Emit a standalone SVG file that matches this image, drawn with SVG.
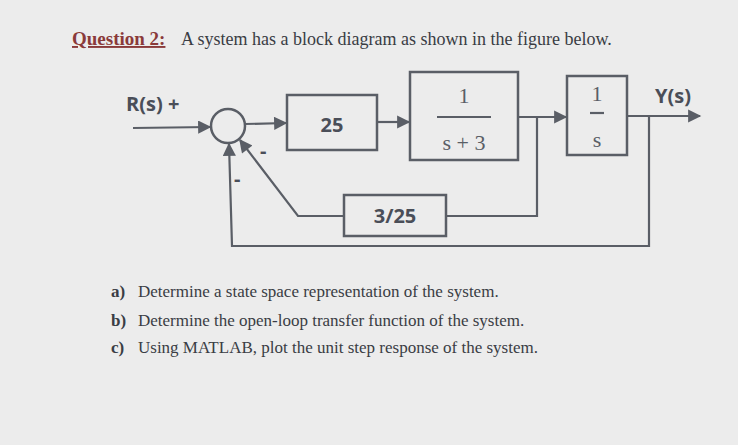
<svg xmlns="http://www.w3.org/2000/svg" width="738" height="445" viewBox="0 0 738 445">
<style>
.b{fill:none;stroke:#5a5e66;stroke-width:2.5}
.l{fill:none;stroke:#5a5e66;stroke-width:2.2}
.s{font-family:"Open Sans","Liberation Sans",sans-serif;font-weight:bold;fill:#4a4e58;font-size:20px}
.t{font-family:"Liberation Serif",serif;fill:#3a3d44;font-size:17px}
.f{font-family:"Liberation Serif",serif;fill:#5a5e66;font-size:22px;text-anchor:middle}
</style>
<defs><marker id="a" viewBox="0 0 10 10" refX="9" refY="5" markerWidth="7" markerHeight="6" orient="auto" markerUnits="strokeWidth"><path d="M0,0L10,5L0,10z" fill="#5a5e66"/></marker></defs>
<rect width="738" height="445" fill="#ececec"/>
<text x="72" y="45" style="font-family:'Liberation Serif',serif;font-weight:bold;font-size:19px;fill:#8a3a3a;text-decoration:underline">Question 2:</text>
<text x="181" y="45" class="t" style="font-size:18px">A system has a block diagram as shown in the figure below.</text>
<g id="sum"><circle cx="228" cy="126" r="17" class="b"/></g>
<g id="k25"><rect x="287" y="95" width="90" height="55" class="b"/><text x="332" y="132" class="s" text-anchor="middle">25</text></g>
<g id="g1"><rect x="410" y="72" width="108" height="88" class="b"/><text x="464" y="103" class="f">1</text><line x1="437" y1="117" x2="491" y2="117" class="l"/><text x="464" y="150" class="f">s + 3</text></g>
<g id="g2"><rect x="567" y="76" width="60" height="79" class="b"/><text x="597" y="101" class="f">1</text><line x1="590" y1="113" x2="604" y2="113" class="l"/><text x="597" y="147" class="f">s</text></g>
<g id="k325"><rect x="344" y="195" width="102" height="41" class="b"/><text x="395" y="223" class="s" text-anchor="middle">3/25</text></g>
<g id="connectors">
<line x1="133" y1="128" x2="210" y2="127" class="l" marker-end="url(#a)"/>
<line x1="245" y1="124" x2="286" y2="123" class="l" marker-end="url(#a)"/>
<line x1="377" y1="122" x2="409" y2="122" class="l" marker-end="url(#a)"/>
<line x1="518" y1="117" x2="566" y2="117" class="l" marker-end="url(#a)"/>
<polyline points="537,117 537,216 446,216" class="l"/>
<polyline points="344,216 298,216 240,140" class="l" marker-end="url(#a)"/>
<line x1="627" y1="116" x2="700" y2="116" class="l" marker-end="url(#a)"/>
<polyline points="649,116 649,246 232,246 229,144" class="l" marker-end="url(#a)"/>
</g>
<text x="126" y="111" class="s">R(s) +</text>
<text x="655" y="103" class="s">Y(s)</text>
<text x="260" y="158" class="s">-</text>
<text x="234" y="186" class="s">-</text>
<g class="t">
<text x="111" y="297" font-weight="bold">a)</text><text x="138" y="297">Determine a state space representation of the system.</text>
<text x="111" y="326" font-weight="bold">b)</text><text x="138" y="326">Determine the open-loop transfer function of the system.</text>
<text x="111" y="353" font-weight="bold">c)</text><text x="138" y="353">Using MATLAB, plot the unit step response of the system.</text>
</g>
</svg>
